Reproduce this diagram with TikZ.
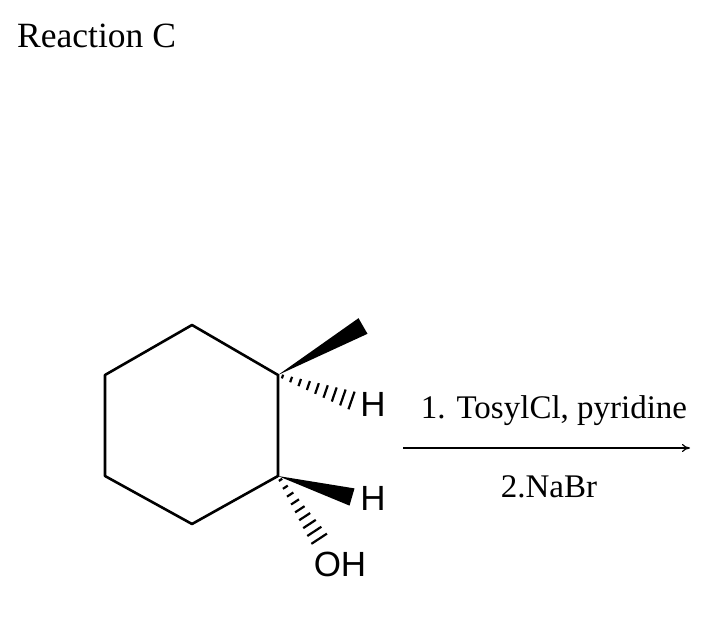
\documentclass[tikz,border=0pt]{standalone}
\usepackage{fontspec}
\setmainfont{Liberation Serif}
\newfontfamily\lsans{Liberation Sans}
\usetikzlibrary{calc,arrows.meta}
\begin{document}
\begin{tikzpicture}[x=1pt,y=-1pt,bond/.style={line width=2.6pt,line join=round},
  atom/.style={font=\lsans\fontsize{35}{38}\selectfont,inner sep=0pt}]
\useasboundingbox (0,0) rectangle (722,636);
\node[anchor=west,font=\fontsize{35.5}{38}\selectfont,inner sep=0pt] (title) at (17,36) {Reaction C};
\coordinate (c1) at (192,325);
\coordinate (c2) at (278,375);
\coordinate (c3) at (278,476);
\coordinate (c4) at (192,524);
\coordinate (c5) at (105,476);
\coordinate (c6) at (105,375);
\draw[bond] (c1)--(c2)--(c3)--(c4)--(c5)--(c6)--cycle;
% wedges
\fill (c2) -- (367.5,333.8) -- (358.5,318.2) -- cycle;
\fill (c3) -- (349.5,505.6) -- (354.5,488.4) -- cycle;
% hashes
\foreach \t in {0.06,0.175,...,1.0}{
  \pgfmathsetmacro{\px}{278+75*\t}\pgfmathsetmacro{\py}{375+26*\t}\pgfmathsetmacro{\w}{1.5+8*\t}
  \draw[line width=2.2pt] (\px-0.327*\w,\py+0.945*\w) -- (\px+0.327*\w,\py-0.945*\w);}
\foreach \t in {0.06,0.175,...,1.0}{
  \pgfmathsetmacro{\px}{278+42*\t}\pgfmathsetmacro{\py}{476+64*\t}\pgfmathsetmacro{\w}{1.5+8*\t}
  \draw[line width=2.2pt] (\px-0.836*\w,\py+0.548*\w) -- (\px+0.836*\w,\py-0.548*\w);}
\node[atom] (h1) at (373,404) {H};
\node[atom] (h2) at (373,498) {H};
\node[atom] (oh) at (340,564) {OH};
% arrow
\coordinate (a1) at (403,448);
\coordinate (a2) at (690,448);
\draw[line width=1.2pt,-{To[length=8pt,width=8pt]}] (a1) -- (a2);
\node[font=\fontsize{33}{36}\selectfont,inner sep=0pt] (r1) at (554,411) {1. TosylCl, pyridine};
\node[font=\fontsize{33}{36}\selectfont,inner sep=0pt] (r2) at (549,487) {2.NaBr};
\end{tikzpicture}
\end{document}
